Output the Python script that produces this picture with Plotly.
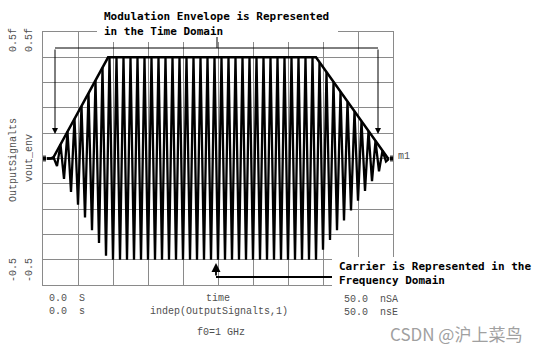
import plotly.graph_objects as go

# ---- data ----
trough_t = [0, 1, 2, 3, 4, 5, 6, 7, 8, 9, 10, 11, 12, 13, 14, 15, 16, 17, 18, 19, 20,
            21, 22, 23, 24, 25, 26, 27, 28, 29, 30, 31, 32, 33, 34, 35, 36, 37, 38, 39, 40,
            41, 42, 43, 44, 45, 46, 47, 48, 49, 50]
trough_v = [0.0, 0.0, -0.038, -0.101, -0.165, -0.228, -0.291, -0.354, -0.418, -0.481, -0.5,
            -0.5, -0.5, -0.5, -0.5, -0.5, -0.5, -0.5, -0.5, -0.5, -0.5,
            -0.5, -0.5, -0.5, -0.5, -0.5, -0.5, -0.5, -0.5, -0.5, -0.5,
            -0.5, -0.5, -0.5, -0.5, -0.5, -0.5, -0.5, -0.5, -0.5, -0.451,
            -0.403, -0.354, -0.306, -0.257, -0.209, -0.160, -0.112, -0.063, -0.015, 0.0]
peak_t = [0.5, 1.5, 2.5, 3.5, 4.5, 5.5, 6.5, 7.5, 8.5, 9.5, 10.5, 11.5, 12.5, 13.5, 14.5,
          15.5, 16.5, 17.5, 18.5, 19.5, 20.5, 21.5, 22.5, 23.5, 24.5, 25.5, 26.5, 27.5, 28.5,
          29.5, 30.5, 31.5, 32.5, 33.5, 34.5, 35.5, 36.5, 37.5, 38.5, 39.5, 40.5, 41.5, 42.5,
          43.5, 44.5, 45.5, 46.5, 47.5, 48.5, 49.5]
peak_v = [0.0, 0.006, 0.070, 0.133, 0.196, 0.259, 0.323, 0.386, 0.449, 0.5,
          0.5, 0.5, 0.5, 0.5, 0.5, 0.5, 0.5, 0.5, 0.5, 0.5,
          0.5, 0.5, 0.5, 0.5, 0.5, 0.5, 0.5, 0.5, 0.5, 0.5,
          0.5, 0.5, 0.5, 0.5, 0.5, 0.5, 0.5, 0.5, 0.5, 0.476,
          0.427, 0.379, 0.330, 0.282, 0.233, 0.184, 0.136, 0.087, 0.039, 0.0]
env_t = [0, 1.4, 9.3, 39.0, 49.3, 50]
env_v = [0.0, 0.0, 0.5, 0.5, 0.0, 0.0]

# merged carrier samples
pts = sorted(list(zip(trough_t, trough_v)) + list(zip(peak_t, peak_v)))
car_t = [p[0] for p in pts]
car_v = [p[1] for p in pts]

W, H = 540, 354
L, R, T, B = 43, 393, 32, 285


def px(x):
    return (x - L) / (R - L)


def py(y):
    return (B - y) / (B - T)


fig = go.Figure()
fig.add_trace(go.Scatter(x=car_t, y=car_v, mode="lines",
                         line=dict(color="black", width=2.3), hoverinfo="skip"))
fig.add_trace(go.Scatter(x=env_t, y=env_v, mode="lines+markers",
                         line=dict(color="black", width=2.5),
                         marker=dict(symbol="square", color="black",
                                     size=[7, 0, 0, 0, 0, 7]),
                         hoverinfo="skip"))

grid = "#8a8a8a"
fig.update_layout(
    width=W, height=H, showlegend=False,
    margin=dict(l=L, r=W - R, t=T, b=H - B),
    paper_bgcolor="white", plot_bgcolor="white",
    xaxis=dict(range=[0, 50], dtick=5, showgrid=True, gridcolor=grid, gridwidth=1,
               showticklabels=False, zeroline=False, showline=True, mirror=True,
               linecolor=grid, linewidth=1, ticks=""),
    yaxis=dict(range=[-0.625, 0.625], dtick=0.125, showgrid=True, gridcolor=grid,
               gridwidth=1, showticklabels=False, zeroline=False, showline=True,
               mirror=True, linecolor=grid, linewidth=1, ticks=""),
)

mono = "Liberation Mono"
lab = dict(family=mono, size=10, color="#505050")
ann = []


def text(x, y, s, xanchor="center", font=lab, angle=0, **kw):
    ann.append(dict(x=px(x), y=py(y), xref="paper", yref="paper", text=s,
                    showarrow=False, xanchor=xanchor, yanchor="middle",
                    font=font, textangle=angle, **kw))


nb = "\u00a0"
# rotated y labels
text(13, 40, "0.5f", angle=-90)
text(29, 40, "0.5f", angle=-90)
text(13, 160, "OutputSignalts", angle=-90)
text(29, 158, "vout_env", angle=-90)
text(13, 270, "-0.5", angle=-90)
text(29, 270, "-0.5", angle=-90)
# bottom labels
text(47, 298, "0.0" + nb * 2 + "S", xanchor="left")
text(47, 311, "0.0" + nb * 2 + "s", xanchor="left")
text(218, 298, "time")
text(219, 311, "indep(OutputSignalts,1)")
text(221, 332, "f0=1 GHz")
text(342, 299, "50.0" + nb * 2 + "nSA", xanchor="left")
text(342, 312, "50.0" + nb * 2 + "nsE", xanchor="left")
# marker label
text(396, 156, "m1", xanchor="left", font=dict(family=mono, size=10, color="#505050"))

bold = dict(family="DejaVu Sans Mono", size=11, color="black")
text(102, 17, "<b>Modulation Envelope is Represented</b>", xanchor="left", font=bold)
text(102, 31, "<b>in the Time Domain</b>", xanchor="left", font=bold)
text(337, 266, "<b>Carrier is Represented in the</b>", xanchor="left", font=bold)
text(337, 280, "<b>Frequency Domain</b>", xanchor="left", font=bold)

# watermark
text(456, 333, "CSDN @沪上菜鸟",
     font=dict(family="Noto Sans CJK SC", size=17, color="#a0a0a0"))

# arrows of the modulation annotation (head at (xa,134), tail at (xa,48))
for xa in (55, 378):
    ann.append(dict(x=px(xa), y=py(134), xref="paper", yref="paper", showarrow=True,
                    ax=0, ay=48 - 134, text="",
                    arrowhead=2, arrowsize=1.2, arrowwidth=1, arrowcolor="black"))
# carrier arrow (head at (216,263), tail at (216,277))
ann.append(dict(x=px(216), y=py(263), xref="paper", yref="paper", showarrow=True,
                ax=0, ay=14, text="",
                arrowhead=2, arrowsize=1, arrowwidth=1.8, arrowcolor="black"))

shapes = [
    # white boxes behind texts
    dict(type="rect", xref="paper", yref="paper", x0=px(97), x1=px(338), y0=py(5),
         y1=py(42), fillcolor="white", line=dict(width=0), layer="above"),
    dict(type="rect", xref="paper", yref="paper", x0=px(332), x1=px(540), y0=py(257),
         y1=py(292), fillcolor="white", line=dict(width=0), layer="above"),
    # bracket
    dict(type="line", xref="paper", yref="paper", x0=px(55), x1=px(378), y0=py(48),
         y1=py(48), line=dict(color="black", width=1), layer="above"),
    dict(type="line", xref="paper", yref="paper", x0=px(217), x1=px(217), y0=py(37),
         y1=py(48), line=dict(color="black", width=1), layer="above"),
    # carrier leader
    dict(type="line", xref="paper", yref="paper", x0=px(216), x1=px(332), y0=py(277),
         y1=py(277), line=dict(color="black", width=2), layer="above"),
]
fig.update_layout(annotations=ann, shapes=shapes)
fig.write_html("out.html")
